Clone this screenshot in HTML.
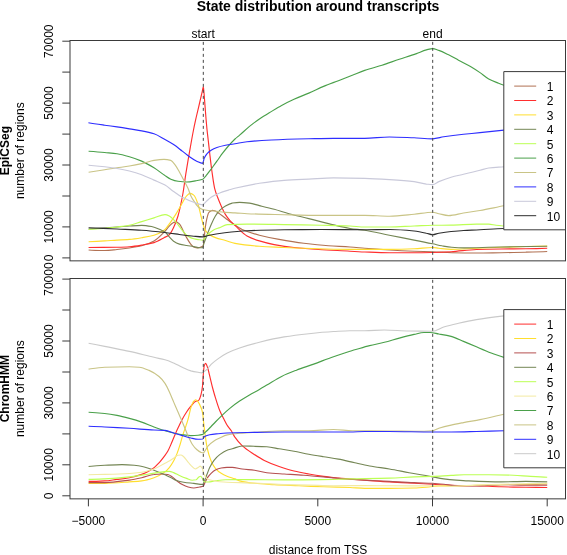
<!DOCTYPE html>
<html><head><meta charset="utf-8"><title>State distribution around transcripts</title>
<style>html,body{margin:0;padding:0;background:#fff}svg{display:block}text{font-family:"Liberation Sans", Arial, Helvetica, sans-serif;font-size:12px;fill:#000}.c path{fill:none;stroke-width:1.15;stroke-linejoin:round;stroke-linecap:butt}.ax{stroke:#3a3a3a;stroke-width:1;fill:none}</style></head><body>
<svg width="567" height="555" viewBox="0 0 567 555">
<rect width="567" height="555" fill="#fff"/>
<text x="318" y="11" text-anchor="middle" style="font-size:14px;font-weight:bold">State distribution around transcripts</text>
<clipPath id="cp1"><rect x="70.0" y="40.5" width="495.5" height="220.35000000000002"/></clipPath>
<g class="c" clip-path="url(#cp1)">
<path d="M88.6,250.0C94.0,250.5 99.3,250.5 104.7,250.5C108.8,250.5 112.9,249.9 117.0,249.5C121.1,249.1 125.3,248.6 129.4,248.0C133.5,247.4 137.6,246.8 141.7,245.8C145.8,244.8 149.9,243.2 154.0,240.9C157.7,238.9 161.3,234.9 165.0,231.1C166.4,229.6 167.9,227.5 169.3,226.1C170.7,224.7 172.2,223.1 173.6,222.5C174.3,222.2 175.1,221.8 175.8,221.8C177.0,221.8 178.2,222.8 179.4,223.9C180.6,225.0 181.8,228.1 183.0,230.4C184.2,232.7 185.4,235.5 186.6,237.6C187.8,239.7 189.0,241.9 190.2,243.4C191.4,244.9 192.6,246.5 193.8,247.0C195.0,247.5 196.2,248.0 197.4,248.0C198.6,248.0 199.8,247.5 201.0,247.0C201.7,246.7 202.5,246.5 203.2,245.5C203.5,245.0 203.9,240.4 204.2,237.6C204.6,234.5 204.9,230.1 205.3,227.5C205.8,223.9 206.3,220.9 206.8,218.9C207.5,216.0 208.2,213.1 208.9,212.4C210.1,211.1 211.3,210.3 212.5,210.3C213.5,210.3 214.4,210.7 215.4,211.0C216.8,211.5 218.3,212.9 219.7,213.9C221.6,215.3 223.6,216.8 225.5,218.2C227.4,219.6 229.4,221.2 231.3,222.5C234.9,225.0 238.5,227.9 242.1,229.5C247.9,232.1 253.6,233.7 259.4,235.2C266.0,236.9 272.5,238.2 279.1,239.4C287.3,240.9 295.6,242.3 303.8,243.3C312.0,244.3 320.3,245.2 328.5,245.8C335.7,246.3 342.8,246.5 350.0,247.0C354.9,247.3 359.8,247.9 364.7,248.3C372.9,248.9 381.2,249.5 389.4,250.0C397.6,250.5 405.9,250.9 414.1,251.2C420.3,251.4 426.4,251.5 432.6,251.7C439.0,251.9 445.3,252.6 451.7,252.7C459.9,252.9 468.2,253.0 476.4,253.0C484.6,253.0 492.8,252.8 501.0,252.7C509.3,252.6 517.5,252.4 525.8,252.2C532.9,252.0 540.1,251.8 547.2,251.5" stroke="#B17153"/>
<path d="M88.6,247.5C98.1,247.5 107.5,247.4 117.0,247.3C121.1,247.2 125.3,247.1 129.4,246.8C133.5,246.5 137.6,245.8 141.7,245.1C145.8,244.4 149.9,243.8 154.0,242.6C157.3,241.6 160.7,239.5 164.0,237.7C165.8,236.8 167.5,236.2 169.3,234.7C170.7,233.5 172.2,230.4 173.6,227.5C175.1,224.5 176.5,220.8 178.0,216.0C178.9,213.0 179.9,208.8 180.8,204.5C181.5,201.1 182.3,197.3 183.0,193.0C184.0,187.3 184.9,179.5 185.9,173.4C186.9,167.3 187.8,161.7 188.8,156.1C189.5,151.8 190.3,147.6 191.0,143.5C191.8,139.0 192.6,134.5 193.4,130.5C194.4,125.3 195.5,120.6 196.5,116.0C197.6,111.3 198.6,107.1 199.7,102.5C200.6,98.7 201.5,94.8 202.4,90.8C202.7,89.5 203.0,86.8 203.3,86.8C203.5,86.8 203.7,89.8 203.9,91.7C204.3,95.6 204.7,101.9 205.1,107.0C205.4,110.8 205.7,114.9 206.0,118.5C206.3,122.1 206.6,125.5 206.9,128.5C207.3,132.8 207.8,136.2 208.2,140.0C208.7,144.4 209.2,148.9 209.7,153.2C210.4,159.2 211.1,165.5 211.8,170.5C212.8,177.4 213.7,184.7 214.7,188.6C215.7,192.5 216.6,194.7 217.6,197.3C218.8,200.5 220.0,203.3 221.2,205.9C222.6,209.0 224.1,212.3 225.5,214.6C226.9,216.9 228.4,218.7 229.8,220.3C231.5,222.3 233.3,223.8 235.0,225.4C239.0,229.1 243.0,233.7 247.0,235.9C251.1,238.2 255.3,239.6 259.4,240.9C264.3,242.4 269.3,243.7 274.2,244.6C280.8,245.8 287.4,246.8 294.0,247.5C302.2,248.4 310.4,249.0 318.6,249.5C329.1,250.2 339.5,250.6 350.0,251.2C354.9,251.5 359.8,251.8 364.7,252.0C372.9,252.3 381.2,252.7 389.4,252.7C397.6,252.7 405.9,252.7 414.1,252.7C420.3,252.7 426.4,252.6 432.6,252.5C438.8,252.4 444.9,252.1 451.1,251.7C459.5,251.2 468.0,249.8 476.4,249.5C484.6,249.2 492.8,249.1 501.0,249.0C509.3,248.9 517.5,248.9 525.8,248.8C532.9,248.7 540.1,248.5 547.2,248.3" stroke="#FF2E2E"/>
<path d="M88.6,241.8C94.0,241.5 99.3,241.2 104.7,240.9C108.8,240.7 112.9,240.3 117.0,240.1C121.1,239.9 125.3,239.7 129.4,239.4C133.5,239.1 137.6,238.4 141.7,237.7C145.8,237.0 149.9,236.4 154.0,235.2C157.3,234.2 160.7,232.6 164.0,230.2C166.3,228.5 168.5,224.9 170.8,221.8C172.7,219.2 174.6,216.2 176.5,213.1C178.4,210.0 180.4,206.3 182.3,203.0C183.7,200.6 185.2,197.2 186.6,195.8C187.8,194.6 189.0,193.3 190.2,193.3C191.4,193.3 192.6,194.1 193.8,195.1C195.2,196.2 196.7,200.4 198.1,204.5C199.1,207.3 200.0,212.2 201.0,216.0C201.7,218.9 202.5,222.3 203.2,224.7C203.9,227.0 204.6,229.3 205.3,230.4C206.8,232.6 208.2,233.7 209.7,234.7C211.6,236.0 213.5,236.9 215.4,237.6C218.8,238.9 222.1,239.5 225.5,240.5C228.7,241.4 231.8,242.8 235.0,243.4C243.1,244.9 251.3,245.7 259.4,246.3C267.6,246.9 275.9,247.1 284.1,247.5C295.6,248.0 307.1,248.5 318.6,248.8C329.1,249.0 339.5,249.3 350.0,249.3C363.1,249.3 376.3,249.3 389.4,249.3C397.6,249.3 405.9,249.1 414.1,248.8C420.3,248.6 426.4,247.5 432.6,247.5C434.7,247.5 436.7,248.1 438.8,248.3C442.9,248.7 447.0,249.3 451.1,249.3C459.5,249.3 468.0,248.6 476.4,248.3C484.6,248.0 492.8,247.6 501.0,247.3C509.3,247.0 517.5,246.7 525.8,246.5C532.9,246.3 540.1,246.1 547.2,246.0" stroke="#FFDE2E"/>
<path d="M88.6,229.0C98.1,228.4 107.5,227.7 117.0,227.0C121.1,226.7 125.3,226.3 129.4,226.0C133.5,225.7 137.6,225.3 141.7,225.3C145.0,225.3 148.3,225.9 151.6,226.5C154.9,227.1 158.2,228.8 161.5,230.2C162.7,230.7 163.8,231.1 165.0,231.9C166.4,232.9 167.9,235.4 169.3,236.9C170.7,238.4 172.2,240.2 173.6,241.2C175.5,242.5 177.5,243.5 179.4,244.1C181.8,244.8 184.2,245.1 186.6,245.5C189.0,245.9 191.4,246.2 193.8,246.6C195.7,246.9 197.7,247.7 199.6,247.7C200.6,247.7 201.7,247.7 202.7,247.7C203.1,247.7 203.5,244.6 203.9,243.4C204.6,241.1 205.4,239.6 206.1,237.6C206.8,235.7 207.5,233.7 208.2,231.9C209.2,229.4 210.1,226.9 211.1,224.7C212.5,221.5 214.0,218.3 215.4,216.0C216.8,213.7 218.3,211.7 219.7,210.3C221.6,208.4 223.6,206.9 225.5,205.9C227.7,204.7 230.0,203.5 232.2,203.1C234.7,202.7 237.1,202.3 239.6,202.3C242.9,202.3 246.2,202.7 249.5,203.1C252.8,203.5 256.1,204.8 259.4,205.6C264.3,206.8 269.3,208.0 274.2,209.3C279.1,210.6 284.1,212.4 289.0,213.7C295.6,215.5 302.2,216.9 308.8,218.6C315.4,220.2 321.9,222.0 328.5,223.6C335.7,225.3 342.8,227.4 350.0,228.5C354.9,229.2 359.8,229.5 364.7,230.2C372.9,231.4 381.2,233.6 389.4,235.2C397.6,236.8 405.9,238.5 414.1,240.1C420.3,241.3 426.4,242.5 432.6,243.8C435.7,244.4 438.7,245.3 441.8,245.8C445.1,246.4 448.4,247.1 451.7,247.3C455.8,247.6 459.9,247.8 464.0,247.8C472.2,247.8 480.5,247.5 488.7,247.3C496.9,247.1 505.2,246.9 513.4,246.8C524.7,246.6 535.9,246.4 547.2,246.3" stroke="#748654"/>
<path d="M88.6,229.5C94.0,229.3 99.3,228.9 104.7,228.5C108.8,228.2 112.9,227.5 117.0,227.0C121.1,226.5 125.3,226.1 129.4,225.3C133.5,224.5 137.6,222.8 141.7,221.6C145.8,220.4 149.9,219.1 154.0,217.9C157.7,216.8 161.3,214.6 165.0,214.6C166.4,214.6 167.9,215.3 169.3,216.0C170.7,216.7 172.2,218.2 173.6,219.6C175.1,221.0 176.5,222.9 178.0,224.7C179.4,226.5 180.9,228.8 182.3,230.4C184.2,232.6 186.2,235.0 188.1,236.2C190.0,237.4 191.9,238.3 193.8,238.8C195.7,239.3 197.7,239.5 199.6,239.8C200.6,240.0 201.7,240.2 202.7,240.2C203.6,240.2 204.4,237.9 205.3,236.9C206.3,235.8 207.2,234.8 208.2,234.0C210.1,232.3 212.1,230.7 214.0,229.7C215.9,228.8 217.8,228.3 219.7,227.6C222.2,226.6 224.8,224.7 227.3,224.6C233.9,224.2 240.4,224.1 247.0,224.1C259.4,224.1 271.7,224.4 284.1,224.6C296.4,224.8 308.8,225.0 321.1,225.3C330.7,225.5 340.4,225.6 350.0,226.0C354.9,226.2 359.8,227.0 364.7,227.0C372.9,227.0 381.2,227.0 389.4,227.0C397.6,227.0 405.9,226.3 414.1,226.0C420.3,225.8 426.4,225.4 432.6,225.3C438.8,225.2 444.9,225.2 451.1,225.1C459.5,225.0 468.0,224.1 476.4,224.1C480.5,224.1 484.6,224.1 488.7,224.1C491.2,224.1 493.6,225.0 496.1,225.3C498.7,225.6 501.4,225.8 504.0,226.0C518.4,226.9 532.8,227.8 547.2,228.0" stroke="#BCFF54"/>
<path d="M88.6,151.2C94.0,151.6 99.3,152.0 104.7,152.5C108.8,152.9 112.9,153.1 117.0,153.7C121.1,154.3 125.3,155.5 129.4,156.7C133.5,157.9 137.6,159.3 141.7,161.1C145.8,162.9 149.9,165.3 154.0,167.8C157.7,170.1 161.3,173.2 165.0,175.6C166.9,176.9 168.9,178.4 170.8,179.2C173.2,180.2 175.6,181.0 178.0,181.3C180.9,181.7 183.7,182.0 186.6,182.0C189.5,182.0 192.4,181.4 195.3,180.9C197.8,180.5 200.2,180.2 202.7,179.2C203.8,178.7 205.0,176.9 206.1,175.6C207.8,173.7 209.4,171.3 211.1,169.1C213.0,166.5 215.0,163.9 216.9,161.2C218.8,158.6 220.7,155.7 222.6,153.2C224.5,150.7 226.5,148.2 228.4,146.0C230.6,143.5 232.8,141.1 235.0,139.0C236.5,137.6 238.1,136.4 239.6,135.1C242.9,132.3 246.2,129.1 249.5,126.4C252.8,123.7 256.1,121.2 259.4,119.0C262.7,116.8 266.0,114.8 269.3,112.8C273.4,110.3 277.5,107.6 281.6,105.4C285.7,103.2 289.9,101.2 294.0,99.3C298.9,97.1 303.9,95.2 308.8,93.1C313.7,91.0 318.7,88.5 323.6,86.4C328.5,84.3 333.5,82.6 338.4,80.7C343.0,78.9 347.7,77.1 352.3,75.3C356.4,73.7 360.6,71.8 364.7,70.4C370.5,68.4 376.2,67.0 382.0,65.2C387.8,63.4 393.5,61.2 399.3,59.3C405.0,57.4 410.8,55.6 416.5,53.6C419.8,52.4 423.1,50.8 426.4,49.9C428.5,49.4 430.5,48.6 432.6,48.6C434.7,48.6 436.7,49.7 438.8,50.4C442.1,51.5 445.3,53.2 448.6,54.8C451.9,56.4 455.2,58.4 458.5,60.2C462.6,62.4 466.8,64.3 470.9,66.7C473.9,68.5 477.0,70.5 480.0,72.6C482.9,74.6 485.8,77.4 488.7,79.0C492.0,80.8 495.3,81.9 498.6,83.2C500.4,83.9 502.2,84.6 504.0,85.2C518.4,90.4 532.8,95.4 547.2,100.0" stroke="#4AA04A"/>
<path d="M88.6,172.2C94.0,171.4 99.3,170.6 104.7,169.8C108.8,169.2 112.9,168.4 117.0,167.8C121.1,167.2 125.3,166.7 129.4,166.0C133.5,165.3 137.6,164.5 141.7,163.6C145.8,162.7 149.9,161.0 154.0,160.4C157.3,159.9 160.7,159.4 164.0,159.4C166.3,159.4 168.5,159.8 170.8,160.4C172.2,160.8 173.7,163.0 175.1,164.8C176.5,166.6 178.0,169.5 179.4,172.0C180.8,174.5 182.3,177.3 183.7,180.0C185.2,182.8 186.6,185.3 188.1,188.6C189.0,190.7 190.0,194.0 190.9,195.9C191.9,197.9 192.8,199.4 193.8,200.9C195.2,203.1 196.7,205.5 198.1,206.7C199.6,208.0 201.2,209.1 202.7,209.5C204.5,210.0 206.4,210.3 208.2,210.5C210.1,210.7 212.1,210.8 214.0,211.0C215.9,211.2 217.8,211.5 219.7,211.7C221.6,211.9 223.6,212.3 225.5,212.4C228.7,212.6 231.8,212.7 235.0,212.9C239.0,213.1 243.0,213.5 247.0,213.7C259.4,214.2 271.7,214.4 284.1,214.7C296.4,215.0 308.8,215.4 321.1,215.4C335.6,215.4 350.2,215.4 364.7,215.4C372.9,215.4 381.2,216.2 389.4,216.2C397.6,216.2 405.9,215.0 414.1,214.2C420.3,213.6 426.4,212.2 432.6,212.2C434.7,212.2 436.7,213.3 438.8,213.7C442.1,214.4 445.3,215.6 448.6,215.6C453.6,215.6 458.5,213.8 463.5,213.0C469.0,212.1 474.5,211.4 480.0,210.5C488.0,209.1 496.0,207.3 504.0,205.8C518.4,203.1 532.8,200.5 547.2,198.0" stroke="#C9C486"/>
<path d="M88.4,122.7C93.8,123.6 99.3,124.4 104.7,125.2C108.8,125.8 112.9,126.3 117.0,126.9C121.1,127.5 125.3,128.2 129.4,128.9C133.5,129.6 137.6,130.1 141.7,130.9C145.8,131.7 149.9,132.5 154.0,133.8C157.7,135.0 161.3,137.5 165.0,139.5C167.9,141.1 170.7,142.7 173.6,144.6C176.5,146.5 179.4,148.9 182.3,151.1C184.7,152.9 187.1,155.1 189.5,156.8C191.9,158.5 194.3,160.1 196.7,161.2C198.7,162.1 200.7,163.3 202.7,163.3C203.2,163.3 203.7,159.4 204.2,158.3C205.1,156.3 205.9,155.0 206.8,154.0C208.2,152.3 209.7,151.2 211.1,150.3C213.0,149.1 215.0,148.2 216.9,147.5C219.8,146.5 222.6,145.9 225.5,145.3C228.7,144.7 231.8,144.3 235.0,143.8C239.0,143.1 243.0,142.1 247.0,141.7C255.2,140.8 263.5,140.4 271.7,140.0C284.1,139.4 296.4,139.1 308.8,138.8C317.0,138.6 325.3,138.3 333.5,138.3C343.9,138.3 354.3,138.3 364.7,138.3C372.9,138.3 381.2,137.0 389.4,137.0C397.6,137.0 405.9,137.5 414.1,137.8C420.3,138.1 426.4,138.8 432.6,138.8C436.3,138.8 440.0,137.4 443.7,136.8C450.3,135.8 456.9,135.0 463.5,134.3C469.0,133.7 474.5,133.2 480.0,132.6C488.0,131.8 496.0,131.0 504.0,130.1C518.4,128.5 532.8,126.8 547.2,125.0" stroke="#2E2EFF"/>
<path d="M88.6,165.3C94.0,165.7 99.3,166.2 104.7,166.8C108.8,167.3 112.9,167.8 117.0,168.5C121.1,169.2 125.3,170.0 129.4,171.0C133.5,172.0 137.6,173.2 141.7,174.7C145.8,176.2 149.9,178.3 154.0,180.1C157.7,181.7 161.3,182.9 165.0,185.0C167.9,186.6 170.7,189.5 173.6,191.5C176.5,193.6 179.4,195.8 182.3,197.3C186.1,199.3 190.0,201.0 193.8,202.3C196.8,203.3 199.7,204.8 202.7,204.8C203.8,204.8 205.0,202.6 206.1,201.6C207.8,200.1 209.4,198.4 211.1,197.3C214.0,195.4 216.8,194.1 219.7,193.0C222.6,191.8 225.5,191.0 228.4,190.1C230.5,189.5 232.6,188.8 234.7,188.3C242.9,186.3 251.2,184.5 259.4,183.3C267.6,182.1 275.9,181.0 284.1,180.4C292.3,179.8 300.6,179.5 308.8,179.1C317.0,178.7 325.3,177.9 333.5,177.9C343.9,177.9 354.3,178.1 364.7,178.4C372.9,178.6 381.2,179.1 389.4,179.6C397.6,180.1 405.9,180.6 414.1,181.6C418.2,182.1 422.3,183.6 426.4,184.1C428.5,184.3 430.5,184.6 432.6,184.6C434.7,184.6 436.7,182.5 438.8,181.6C442.9,179.9 447.0,178.4 451.1,177.2C455.2,176.0 459.4,175.2 463.5,174.2C469.0,172.9 474.5,171.6 480.0,170.2C482.9,169.5 485.8,168.4 488.7,168.0C493.8,167.4 498.9,167.2 504.0,166.8C518.4,165.6 532.8,164.4 547.2,163.0" stroke="#C9C9DA"/>
<path d="M88.6,227.8C98.1,228.2 107.5,228.6 117.0,229.0C125.2,229.4 133.5,229.7 141.7,230.2C149.9,230.7 158.2,231.7 166.4,232.7C170.7,233.2 175.1,233.9 179.4,234.5C184.2,235.1 189.0,235.8 193.8,236.2C196.8,236.5 199.7,236.9 202.7,236.9C204.5,236.9 206.4,235.9 208.2,235.5C213.7,234.3 219.3,233.4 224.8,232.7C232.2,231.8 239.6,231.0 247.0,230.7C259.4,230.2 271.7,230.0 284.1,229.8C296.4,229.7 308.8,229.5 321.1,229.5C335.6,229.5 350.2,229.8 364.7,229.8C372.9,229.8 381.2,229.5 389.4,229.5C397.6,229.5 405.9,230.2 414.1,231.0C418.2,231.4 422.3,232.3 426.4,233.2C428.5,233.6 430.5,234.7 432.6,234.7C434.7,234.7 436.7,233.6 438.8,233.2C442.9,232.5 447.0,231.9 451.1,231.5C455.2,231.1 459.4,230.7 463.5,230.5C469.0,230.2 474.5,230.1 480.0,229.8C488.0,229.4 496.0,228.7 504.0,228.5C518.4,228.2 532.8,228.0 547.2,228.0" stroke="#2E2E2E"/>
</g>
<line x1="203.3" y1="260.85" x2="203.3" y2="40.5" stroke="#444" stroke-width="1" stroke-dasharray="3 3"/>
<line x1="432.7" y1="260.85" x2="432.7" y2="40.5" stroke="#444" stroke-width="1" stroke-dasharray="3 3"/>
<rect x="503.8" y="71.6" width="61.69999999999999" height="158.2" fill="#fff" stroke="none"/>
<path class="ax" d="M565.5,71.6 H503.8 V229.79999999999998 H565.5"/>
<line x1="514.2" y1="86.1" x2="536.2" y2="86.1" stroke="#B17153" stroke-width="1"/>
<text x="546.8" y="90.9">1</text>
<line x1="514.2" y1="100.5" x2="536.2" y2="100.5" stroke="#FF2E2E" stroke-width="1"/>
<text x="546.8" y="105.3">2</text>
<line x1="514.2" y1="114.9" x2="536.2" y2="114.9" stroke="#FFDE2E" stroke-width="1"/>
<text x="546.8" y="119.7">3</text>
<line x1="514.2" y1="129.3" x2="536.2" y2="129.3" stroke="#748654" stroke-width="1"/>
<text x="546.8" y="134.1">4</text>
<line x1="514.2" y1="143.7" x2="536.2" y2="143.7" stroke="#BCFF54" stroke-width="1"/>
<text x="546.8" y="148.5">5</text>
<line x1="514.2" y1="158.1" x2="536.2" y2="158.1" stroke="#4AA04A" stroke-width="1"/>
<text x="546.8" y="162.9">6</text>
<line x1="514.2" y1="172.5" x2="536.2" y2="172.5" stroke="#C9C486" stroke-width="1"/>
<text x="546.8" y="177.3">7</text>
<line x1="514.2" y1="186.9" x2="536.2" y2="186.9" stroke="#2E2EFF" stroke-width="1"/>
<text x="546.8" y="191.7">8</text>
<line x1="514.2" y1="201.3" x2="536.2" y2="201.3" stroke="#C9C9DA" stroke-width="1"/>
<text x="546.8" y="206.1">9</text>
<line x1="514.2" y1="215.7" x2="536.2" y2="215.7" stroke="#2E2E2E" stroke-width="1"/>
<text x="546.8" y="220.5">10</text>
<rect class="ax" x="70.0" y="40.5" width="495.5" height="220.35000000000002"/>
<line class="ax" x1="62.3" y1="257.9" x2="70.0" y2="257.9"/>
<line class="ax" x1="62.3" y1="226.9" x2="70.0" y2="226.9"/>
<line class="ax" x1="62.3" y1="196.0" x2="70.0" y2="196.0"/>
<line class="ax" x1="62.3" y1="165.0" x2="70.0" y2="165.0"/>
<line class="ax" x1="62.3" y1="134.1" x2="70.0" y2="134.1"/>
<line class="ax" x1="62.3" y1="103.1" x2="70.0" y2="103.1"/>
<line class="ax" x1="62.3" y1="72.1" x2="70.0" y2="72.1"/>
<line class="ax" x1="62.3" y1="41.2" x2="70.0" y2="41.2"/>
<text transform="translate(53.2,257.9) rotate(-90)" text-anchor="middle">0</text>
<text transform="translate(53.2,226.9) rotate(-90)" text-anchor="middle">10000</text>
<text transform="translate(53.2,165.0) rotate(-90)" text-anchor="middle">30000</text>
<text transform="translate(53.2,103.1) rotate(-90)" text-anchor="middle">50000</text>
<text transform="translate(53.2,41.2) rotate(-90)" text-anchor="middle">70000</text>
<text transform="translate(9.3,150.7) rotate(-90)" text-anchor="middle" style="font-weight:bold">EpiCSeg</text>
<text transform="translate(24.3,150.7) rotate(-90)" text-anchor="middle">number of regions</text>
<text x="203.2" y="37.6" text-anchor="middle">start</text>
<text x="432.6" y="37.6" text-anchor="middle">end</text>
<clipPath id="cp2"><rect x="70.0" y="278.5" width="495.5" height="220.35000000000002"/></clipPath>
<g class="c" clip-path="url(#cp2)">
<path d="M88.6,481.4C94.0,481.4 99.3,481.2 104.7,480.9C108.8,480.7 112.9,479.9 117.0,479.4C121.1,478.9 125.3,478.5 129.4,477.7C133.5,477.0 137.6,475.8 141.7,474.4C145.0,473.2 148.3,471.6 151.6,469.5C154.1,467.9 156.5,465.4 159.0,462.8C161.0,460.7 163.0,458.0 165.0,455.3C166.0,454.0 166.9,452.7 167.9,451.0C169.1,448.9 170.3,445.9 171.5,443.1C172.7,440.3 173.9,437.2 175.1,434.4C176.3,431.6 177.5,429.0 178.7,426.5C179.9,424.0 181.1,421.4 182.3,419.2C183.7,416.6 185.2,414.1 186.6,412.0C188.0,409.9 189.5,407.9 190.9,406.2C192.4,404.5 193.8,402.5 195.3,401.6C196.5,400.9 197.7,401.0 198.9,400.1C199.6,399.6 200.3,397.2 201.0,394.7C201.5,392.9 202.0,390.4 202.5,386.0C202.7,384.0 203.0,378.7 203.2,375.9C203.5,371.9 203.9,367.0 204.2,365.9C204.7,364.4 205.1,363.3 205.6,363.3C206.2,363.3 206.9,365.6 207.5,367.3C208.2,369.3 209.0,373.0 209.7,375.9C210.6,379.7 211.6,384.0 212.5,387.5C213.5,391.2 214.4,394.5 215.4,397.6C216.8,402.2 218.3,407.0 219.7,410.5C221.2,414.1 222.6,416.7 224.1,419.6C225.1,421.5 226.0,423.5 227.0,425.0C228.4,427.3 229.9,428.6 231.3,430.8C232.4,432.6 233.6,435.2 234.7,436.9C237.2,440.5 239.6,443.3 242.1,445.6C245.4,448.6 248.7,450.8 252.0,453.0C256.1,455.7 260.2,458.4 264.3,460.4C269.2,462.8 274.2,464.8 279.1,466.5C284.1,468.2 289.0,469.8 294.0,471.0C298.9,472.2 303.9,473.1 308.8,474.0C313.7,474.9 318.7,475.7 323.6,476.4C328.5,477.1 333.5,477.6 338.4,478.1C343.9,478.6 349.3,479.0 354.8,479.4C359.7,479.8 364.7,480.2 369.6,480.6C376.2,481.1 382.8,481.5 389.4,481.9C397.6,482.4 405.9,482.8 414.1,483.3C420.3,483.6 426.4,484.0 432.6,484.3C438.8,484.6 444.9,485.1 451.1,485.3C459.5,485.6 468.0,485.6 476.4,485.8C484.6,486.0 492.8,486.6 501.0,486.8C509.3,487.0 517.5,487.2 525.8,487.3C532.9,487.4 540.1,487.5 547.2,487.5" stroke="#FF2E2E"/>
<path d="M88.6,483.3C94.0,483.3 99.3,483.3 104.7,483.3C112.9,483.3 121.2,482.5 129.4,481.9C133.5,481.6 137.6,481.4 141.7,480.9C145.8,480.4 149.9,479.1 154.0,477.7C157.7,476.4 161.3,474.6 165.0,471.9C166.4,470.9 167.9,469.3 169.3,467.6C170.7,465.9 172.2,463.7 173.6,461.1C174.8,458.9 176.0,456.2 177.2,453.1C178.2,450.6 179.1,447.6 180.1,444.5C181.1,441.4 182.0,437.5 183.0,434.4C184.0,431.3 184.9,428.9 185.9,426.0C186.6,423.8 187.4,421.8 188.1,419.2C189.0,415.9 190.0,410.3 190.9,407.6C191.9,404.8 192.8,402.3 193.8,401.2C194.4,400.5 195.1,399.7 195.7,399.7C196.5,399.7 197.3,400.9 198.1,401.9C199.1,403.1 200.0,405.1 201.0,407.6C201.6,409.0 202.1,410.4 202.7,413.4C203.0,415.0 203.3,419.3 203.6,422.0C203.8,423.8 204.0,425.3 204.2,427.0C204.5,429.5 204.8,432.2 205.1,434.4C205.7,438.6 206.2,443.0 206.8,445.9C207.5,449.5 208.2,452.3 208.9,454.6C209.9,457.8 210.8,460.5 211.8,462.5C213.0,465.0 214.2,466.9 215.4,468.3C217.3,470.5 219.3,472.1 221.2,473.3C223.1,474.5 225.1,475.4 227.0,476.2C229.7,477.3 232.3,477.9 235.0,478.9C236.5,479.5 238.1,480.5 239.6,480.9C244.5,482.2 249.5,482.8 254.4,483.3C261.0,483.9 267.6,484.2 274.2,484.6C282.4,485.1 290.7,485.4 298.9,485.8C307.1,486.2 315.4,486.5 323.6,486.8C332.4,487.1 341.2,487.2 350.0,487.5C354.9,487.7 359.8,488.3 364.7,488.3C372.9,488.3 381.2,488.3 389.4,488.3C397.6,488.3 405.9,488.2 414.1,488.0C419.0,487.9 424.0,487.4 428.9,487.0C432.2,486.7 435.5,485.8 438.8,485.8C442.9,485.8 447.0,485.8 451.1,485.8C459.5,485.8 468.0,485.5 476.4,485.3C484.6,485.1 492.8,484.7 501.0,484.6C509.3,484.5 517.5,484.4 525.8,484.3C532.9,484.2 540.1,484.0 547.2,483.8" stroke="#FFDE2E"/>
<path d="M88.6,482.6C94.0,482.6 99.3,482.6 104.7,482.6C112.9,482.6 121.2,481.2 129.4,480.1C133.5,479.5 137.6,478.6 141.7,477.7C145.8,476.8 149.9,474.9 154.0,474.5C156.5,474.2 159.0,474.0 161.5,474.0C163.6,474.0 165.8,474.2 167.9,474.5C169.3,474.7 170.8,475.9 172.2,476.9C173.6,477.9 175.1,479.4 176.5,480.5C178.4,482.0 180.4,483.6 182.3,484.6C184.2,485.6 186.2,486.5 188.1,487.0C190.0,487.5 191.9,488.0 193.8,488.0C195.7,488.0 197.7,487.4 199.6,487.0C200.8,486.8 202.0,486.8 203.2,486.3C203.7,486.1 204.1,484.4 204.6,483.4C205.6,481.4 206.5,479.1 207.5,477.6C208.7,475.8 209.9,474.4 211.1,473.3C212.5,472.0 214.0,470.8 215.4,470.1C217.3,469.1 219.3,468.4 221.2,468.0C223.1,467.6 225.1,467.3 227.0,467.3C228.7,467.3 230.5,467.3 232.2,467.3C235.5,467.3 238.8,468.6 242.1,469.0C246.2,469.5 250.3,469.7 254.4,470.2C258.5,470.7 262.7,472.2 266.8,472.7C272.6,473.3 278.3,473.6 284.1,474.0C290.7,474.4 297.2,474.7 303.8,475.2C310.4,475.7 317.0,476.3 323.6,476.9C328.5,477.4 333.5,478.0 338.4,478.4C347.2,479.1 355.9,479.6 364.7,480.1C372.9,480.6 381.2,481.0 389.4,481.4C397.6,481.8 405.9,482.3 414.1,482.6C420.3,482.9 426.4,483.0 432.6,483.3C436.3,483.5 440.0,483.9 443.7,484.3C448.6,484.8 453.6,485.8 458.5,485.8C465.7,485.8 472.8,485.8 480.0,485.8C487.0,485.8 494.0,484.6 501.0,484.6C509.3,484.6 517.5,485.1 525.8,485.1C532.9,485.1 540.1,485.1 547.2,485.1" stroke="#B55050"/>
<path d="M88.6,466.5C94.0,466.0 99.3,465.6 104.7,465.3C110.5,465.0 116.2,464.6 122.0,464.6C126.1,464.6 130.2,464.9 134.3,465.3C137.6,465.6 140.9,466.3 144.2,467.0C147.5,467.7 150.7,469.0 154.0,470.2C157.7,471.5 161.3,473.1 165.0,474.8C166.9,475.7 168.9,476.6 170.8,477.6C172.7,478.5 174.6,479.9 176.5,480.5C178.9,481.3 181.3,481.8 183.7,482.2C187.1,482.7 190.4,483.0 193.8,483.4C196.8,483.7 199.7,484.4 202.7,484.4C203.3,484.4 204.0,481.9 204.6,480.5C205.3,478.8 206.1,476.7 206.8,474.8C207.8,472.3 208.7,469.6 209.7,467.6C211.1,464.7 212.6,462.1 214.0,460.3C215.9,457.9 217.8,456.0 219.7,454.6C222.1,452.8 224.6,451.2 227.0,450.3C228.7,449.6 230.5,449.3 232.2,448.8C235.5,447.9 238.8,446.0 242.1,446.0C246.2,446.0 250.3,446.2 254.4,446.3C258.5,446.4 262.7,446.5 266.8,446.8C270.9,447.1 275.0,448.1 279.1,448.8C284.1,449.6 289.0,450.3 294.0,451.2C298.9,452.1 303.9,453.3 308.8,454.2C313.7,455.1 318.7,455.9 323.6,456.7C328.5,457.5 333.5,458.2 338.4,459.1C343.9,460.1 349.3,461.6 354.8,462.8C359.7,463.9 364.7,465.1 369.6,466.0C376.2,467.2 382.8,467.9 389.4,469.0C396.0,470.1 402.5,471.5 409.1,472.7C414.1,473.6 419.0,474.3 424.0,475.2C426.9,475.7 429.7,476.4 432.6,476.9C436.3,477.6 440.0,478.4 443.7,478.9C447.8,479.4 451.9,479.8 456.0,480.1C460.1,480.4 464.3,480.7 468.4,480.9C479.3,481.4 490.1,481.9 501.0,481.9C509.3,481.9 517.5,481.4 525.8,481.4C532.9,481.4 540.1,481.6 547.2,481.9" stroke="#748654"/>
<path d="M88.6,479.4C94.0,479.3 99.3,479.1 104.7,478.9C112.9,478.5 121.2,477.8 129.4,476.9C136.0,476.2 142.5,475.0 149.1,474.0C154.4,473.2 159.7,471.9 165.0,471.6C166.4,471.5 167.9,471.4 169.3,471.4C170.7,471.4 172.2,472.1 173.6,472.6C175.5,473.3 177.5,474.6 179.4,475.5C181.8,476.6 184.2,477.6 186.6,478.4C188.5,479.1 190.5,480.2 192.4,480.2C193.6,480.2 194.8,480.0 196.0,479.8C197.0,479.6 197.9,477.4 198.9,476.9C199.5,476.6 200.1,476.2 200.7,476.2C201.4,476.2 202.0,478.2 202.7,479.1C203.3,480.0 204.0,481.6 204.6,481.7C205.8,481.9 207.0,482.0 208.2,482.0C210.6,482.0 213.0,481.1 215.4,480.8C218.8,480.4 222.1,479.9 225.5,479.8C232.7,479.7 239.8,479.6 247.0,479.6C259.4,479.6 271.7,479.9 284.1,479.9C296.4,479.9 308.8,479.8 321.1,479.6C330.7,479.5 340.4,479.1 350.0,478.9C363.1,478.6 376.3,478.5 389.4,478.1C397.6,477.9 405.9,477.2 414.1,476.9C420.3,476.7 426.4,476.6 432.6,476.4C438.8,476.2 444.9,475.7 451.1,475.4C455.4,475.2 459.7,474.7 464.0,474.7C472.2,474.7 480.5,474.7 488.7,474.7C496.9,474.7 505.2,474.9 513.4,475.2C519.2,475.4 524.9,476.1 530.7,476.4C536.2,476.7 541.7,477.0 547.2,477.2" stroke="#BCFF54"/>
<path d="M88.6,474.7C94.0,474.6 99.3,474.5 104.7,474.4C112.9,474.2 121.2,474.0 129.4,473.5C133.5,473.3 137.6,472.8 141.7,472.2C145.8,471.6 149.9,470.4 154.0,469.0C157.7,467.7 161.3,465.0 165.0,463.2C166.4,462.5 167.9,461.9 169.3,461.1C170.7,460.3 172.2,459.2 173.6,458.2C175.1,457.2 176.5,455.5 178.0,455.3C179.0,455.1 179.9,455.0 180.9,455.0C181.8,455.0 182.8,456.0 183.7,456.7C184.9,457.7 186.1,459.7 187.3,461.1C188.5,462.5 189.7,464.2 190.9,465.4C192.4,466.8 193.8,469.0 195.3,469.0C196.2,469.0 197.2,468.1 198.1,467.6C198.8,467.2 199.6,466.1 200.3,466.1C200.9,466.1 201.6,467.2 202.2,468.3C202.8,469.3 203.3,472.8 203.9,474.0C204.9,476.1 205.8,477.8 206.8,478.4C208.7,479.6 210.6,480.1 212.5,480.5C214.9,481.1 217.3,481.5 219.7,481.7C222.1,481.9 224.6,482.1 227.0,482.2C231.2,482.4 235.4,482.5 239.6,482.6C246.2,482.8 252.8,483.0 259.4,483.3C267.6,483.6 275.9,484.4 284.1,484.6C292.3,484.8 300.6,484.9 308.8,485.1C317.0,485.3 325.3,485.8 333.5,485.8C343.9,485.8 354.3,485.6 364.7,485.6C372.9,485.6 381.2,485.8 389.4,485.8C403.8,485.8 418.2,485.8 432.6,485.8C438.8,485.8 444.9,486.3 451.1,486.3C459.5,486.3 468.0,485.4 476.4,485.1C492.9,484.5 509.3,484.2 525.8,483.8C532.9,483.6 540.1,483.5 547.2,483.3" stroke="#F3EAA1"/>
<path d="M88.6,412.2C94.0,412.4 99.3,412.9 104.7,413.5C108.8,413.9 112.9,414.6 117.0,415.4C121.1,416.2 125.3,417.3 129.4,418.4C133.5,419.5 137.6,420.7 141.7,422.1C145.8,423.5 149.9,425.5 154.0,427.0C157.7,428.4 161.3,429.7 165.0,430.8C167.9,431.6 170.7,432.4 173.6,433.0C176.5,433.6 179.4,434.3 182.3,434.7C185.2,435.1 188.0,435.6 190.9,435.6C193.3,435.6 195.7,435.5 198.1,435.3C199.6,435.2 201.2,434.9 202.7,434.4C203.8,434.0 205.0,432.5 206.1,431.5C207.8,430.0 209.4,428.2 211.1,426.5C212.5,425.0 214.0,423.5 215.4,422.0C217.8,419.5 220.2,417.1 222.6,414.8C225.0,412.5 227.4,410.4 229.8,408.4C233.1,405.7 236.3,403.3 239.6,401.1C242.9,398.9 246.2,396.8 249.5,394.9C252.8,393.0 256.1,391.4 259.4,389.5C261.9,388.1 264.3,386.6 266.8,385.1C271.7,382.2 276.7,378.8 281.6,376.4C286.5,374.0 291.5,372.1 296.4,370.2C302.2,368.0 307.9,366.2 313.7,364.1C320.3,361.7 326.9,359.0 333.5,356.7C339.0,354.8 344.5,352.9 350.0,351.2C351.6,350.7 353.2,350.3 354.8,349.8C359.7,348.4 364.7,346.8 369.6,345.6C374.5,344.4 379.5,343.5 384.4,342.3C389.4,341.1 394.3,339.4 399.3,338.1C404.2,336.8 409.2,335.5 414.1,334.4C417.4,333.7 420.7,332.5 424.0,332.5C426.0,332.5 428.1,332.5 430.1,332.5C433.0,332.5 435.9,333.5 438.8,334.0C442.9,334.7 447.0,335.3 451.1,336.4C455.2,337.5 459.4,339.7 463.5,341.4C467.8,343.2 472.1,345.0 476.4,346.8C481.3,348.9 486.3,351.1 491.2,353.0C495.5,354.6 499.7,355.8 504.0,357.4C518.4,362.7 532.8,368.4 547.2,375.0" stroke="#4AA04A"/>
<path d="M88.6,369.1C94.0,368.3 99.3,367.4 104.7,367.2C112.9,366.9 121.2,366.7 129.4,366.7C132.7,366.7 136.0,366.9 139.3,367.2C142.6,367.5 145.8,369.0 149.1,370.4C152.4,371.8 155.7,373.8 159.0,376.5C161.0,378.1 163.0,380.5 165.0,383.4C166.4,385.5 167.9,388.7 169.3,391.8C170.7,394.9 172.2,398.6 173.6,401.9C175.1,405.3 176.5,408.6 178.0,412.0C179.2,414.8 180.4,417.5 181.6,420.3C182.6,422.6 183.5,424.9 184.5,427.2C185.7,430.1 186.9,433.3 188.1,435.9C189.5,439.0 191.0,442.4 192.4,444.5C193.8,446.6 195.3,448.3 196.7,449.5C198.1,450.7 199.6,451.9 201.0,452.4C201.7,452.6 202.5,452.9 203.2,452.9C203.9,452.9 204.6,451.2 205.3,450.3C206.3,449.0 207.2,447.0 208.2,445.9C210.1,443.7 212.1,442.1 214.0,440.9C215.9,439.7 217.8,438.9 219.7,438.0C222.2,436.8 224.8,435.4 227.3,434.9C231.4,434.0 235.5,433.6 239.6,433.2C246.2,432.6 252.8,432.4 259.4,432.0C267.6,431.5 275.9,430.7 284.1,430.7C292.3,430.7 300.6,430.7 308.8,430.7C317.0,430.7 325.3,429.5 333.5,429.5C339.8,429.5 346.0,430.6 352.3,430.7C364.7,430.9 377.0,430.9 389.4,431.0C397.6,431.1 405.9,431.2 414.1,431.2C420.3,431.2 426.4,431.1 432.6,430.7C434.7,430.6 436.7,429.0 438.8,428.3C442.9,427.0 447.0,426.0 451.1,425.1C455.2,424.2 459.4,423.4 463.5,422.6C469.0,421.5 474.5,420.7 480.0,419.6C488.0,418.0 496.0,416.0 504.0,414.2C518.4,411.0 532.8,408.0 547.2,405.0" stroke="#C9C486"/>
<path d="M88.6,426.3C94.0,426.5 99.3,426.7 104.7,427.0C112.9,427.4 121.2,427.8 129.4,428.3C137.6,428.8 145.8,429.6 154.0,430.0C157.7,430.2 161.3,430.2 165.0,430.4C167.9,430.6 170.7,432.1 173.6,433.0C176.5,433.9 179.4,434.8 182.3,435.6C185.2,436.4 188.0,437.4 190.9,438.0C193.3,438.5 195.7,439.2 198.1,439.2C199.6,439.2 201.2,439.1 202.7,439.0C203.3,438.9 204.0,437.0 204.6,436.6C206.3,435.5 208.0,435.0 209.7,434.7C212.6,434.2 215.4,434.0 218.3,433.7C221.2,433.4 224.1,433.1 227.0,433.0C233.7,432.7 240.3,432.6 247.0,432.5C259.4,432.3 271.7,432.0 284.1,432.0C296.4,432.0 308.8,432.0 321.1,432.0C330.7,432.0 340.4,432.0 350.0,432.0C354.9,432.0 359.8,431.5 364.7,431.5C372.9,431.5 381.2,431.5 389.4,431.5C403.8,431.5 418.2,432.0 432.6,432.0C438.8,432.0 444.9,432.0 451.1,432.0C459.5,432.0 468.0,431.7 476.4,431.5C485.6,431.3 494.8,430.9 504.0,430.7C518.4,430.4 532.8,430.1 547.2,430.0" stroke="#2E2EFF"/>
<path d="M88.6,343.2C94.0,344.3 99.3,345.3 104.7,346.4C112.9,348.1 121.2,349.6 129.4,351.4C137.6,353.2 145.8,355.4 154.0,357.3C157.7,358.2 161.3,358.8 165.0,359.8C167.9,360.6 170.7,361.8 173.6,363.0C176.5,364.2 179.4,366.0 182.3,367.3C185.2,368.6 188.0,370.1 190.9,370.9C193.3,371.5 195.7,371.9 198.1,372.3C199.3,372.5 200.5,372.8 201.7,372.8C203.4,372.8 205.1,370.9 206.8,369.5C208.2,368.3 209.7,365.8 211.1,364.4C213.5,362.1 215.9,360.3 218.3,358.6C221.3,356.5 224.3,354.5 227.3,353.0C231.4,351.0 235.5,349.4 239.6,348.0C246.2,345.7 252.8,343.9 259.4,342.3C267.6,340.2 275.9,338.2 284.1,336.9C292.3,335.6 300.6,334.6 308.8,333.7C317.0,332.8 325.3,332.0 333.5,331.5C339.0,331.2 344.5,330.7 350.0,330.7C354.9,330.7 359.8,330.7 364.7,330.7C371.3,330.7 377.8,330.0 384.4,330.0C392.6,330.0 400.9,330.9 409.1,331.0C416.9,331.1 424.8,331.2 432.6,331.2C436.3,331.2 440.0,328.1 443.7,327.0C448.6,325.5 453.6,324.4 458.5,323.3C464.5,321.9 470.4,320.6 476.4,319.6C485.6,318.1 494.8,317.0 504.0,315.9C518.4,314.1 532.8,312.5 547.2,311.0" stroke="#CACACA"/>
</g>
<line x1="203.3" y1="498.85" x2="203.3" y2="278.5" stroke="#444" stroke-width="1" stroke-dasharray="3 3"/>
<line x1="432.7" y1="498.85" x2="432.7" y2="278.5" stroke="#444" stroke-width="1" stroke-dasharray="3 3"/>
<rect x="503.8" y="309.6" width="61.69999999999999" height="158.2" fill="#fff" stroke="none"/>
<path class="ax" d="M565.5,309.6 H503.8 V467.8 H565.5"/>
<line x1="514.2" y1="324.1" x2="536.2" y2="324.1" stroke="#FF2E2E" stroke-width="1"/>
<text x="546.8" y="328.9">1</text>
<line x1="514.2" y1="338.5" x2="536.2" y2="338.5" stroke="#FFDE2E" stroke-width="1"/>
<text x="546.8" y="343.3">2</text>
<line x1="514.2" y1="352.9" x2="536.2" y2="352.9" stroke="#B55050" stroke-width="1"/>
<text x="546.8" y="357.7">3</text>
<line x1="514.2" y1="367.3" x2="536.2" y2="367.3" stroke="#748654" stroke-width="1"/>
<text x="546.8" y="372.1">4</text>
<line x1="514.2" y1="381.7" x2="536.2" y2="381.7" stroke="#BCFF54" stroke-width="1"/>
<text x="546.8" y="386.5">5</text>
<line x1="514.2" y1="396.1" x2="536.2" y2="396.1" stroke="#F3EAA1" stroke-width="1"/>
<text x="546.8" y="400.9">6</text>
<line x1="514.2" y1="410.5" x2="536.2" y2="410.5" stroke="#4AA04A" stroke-width="1"/>
<text x="546.8" y="415.3">7</text>
<line x1="514.2" y1="424.9" x2="536.2" y2="424.9" stroke="#C9C486" stroke-width="1"/>
<text x="546.8" y="429.7">8</text>
<line x1="514.2" y1="439.3" x2="536.2" y2="439.3" stroke="#2E2EFF" stroke-width="1"/>
<text x="546.8" y="444.1">9</text>
<line x1="514.2" y1="453.7" x2="536.2" y2="453.7" stroke="#CACACA" stroke-width="1"/>
<text x="546.8" y="458.5">10</text>
<rect class="ax" x="70.0" y="278.5" width="495.5" height="220.35000000000002"/>
<line class="ax" x1="62.3" y1="495.8" x2="70.0" y2="495.8"/>
<line class="ax" x1="62.3" y1="464.8" x2="70.0" y2="464.8"/>
<line class="ax" x1="62.3" y1="433.9" x2="70.0" y2="433.9"/>
<line class="ax" x1="62.3" y1="402.9" x2="70.0" y2="402.9"/>
<line class="ax" x1="62.3" y1="372.0" x2="70.0" y2="372.0"/>
<line class="ax" x1="62.3" y1="341.0" x2="70.0" y2="341.0"/>
<line class="ax" x1="62.3" y1="310.0" x2="70.0" y2="310.0"/>
<line class="ax" x1="62.3" y1="279.1" x2="70.0" y2="279.1"/>
<text transform="translate(53.2,495.8) rotate(-90)" text-anchor="middle">0</text>
<text transform="translate(53.2,464.8) rotate(-90)" text-anchor="middle">10000</text>
<text transform="translate(53.2,402.9) rotate(-90)" text-anchor="middle">30000</text>
<text transform="translate(53.2,341.0) rotate(-90)" text-anchor="middle">50000</text>
<text transform="translate(53.2,279.1) rotate(-90)" text-anchor="middle">70000</text>
<text transform="translate(9.3,388.7) rotate(-90)" text-anchor="middle" style="font-weight:bold">ChromHMM</text>
<text transform="translate(24.3,388.7) rotate(-90)" text-anchor="middle">number of regions</text>
<line class="ax" x1="88.4" y1="498.85" x2="88.4" y2="506.35"/>
<text x="88.4" y="525.2" text-anchor="middle">−5000</text>
<line class="ax" x1="203.1" y1="498.85" x2="203.1" y2="506.35"/>
<text x="203.1" y="525.2" text-anchor="middle">0</text>
<line class="ax" x1="317.8" y1="498.85" x2="317.8" y2="506.35"/>
<text x="317.8" y="525.2" text-anchor="middle">5000</text>
<line class="ax" x1="432.5" y1="498.85" x2="432.5" y2="506.35"/>
<text x="432.5" y="525.2" text-anchor="middle">10000</text>
<line class="ax" x1="547.2" y1="498.85" x2="547.2" y2="506.35"/>
<text x="547.2" y="525.2" text-anchor="middle">15000</text>
<text x="318" y="553.6" text-anchor="middle">distance from TSS</text>
</svg></body></html>
